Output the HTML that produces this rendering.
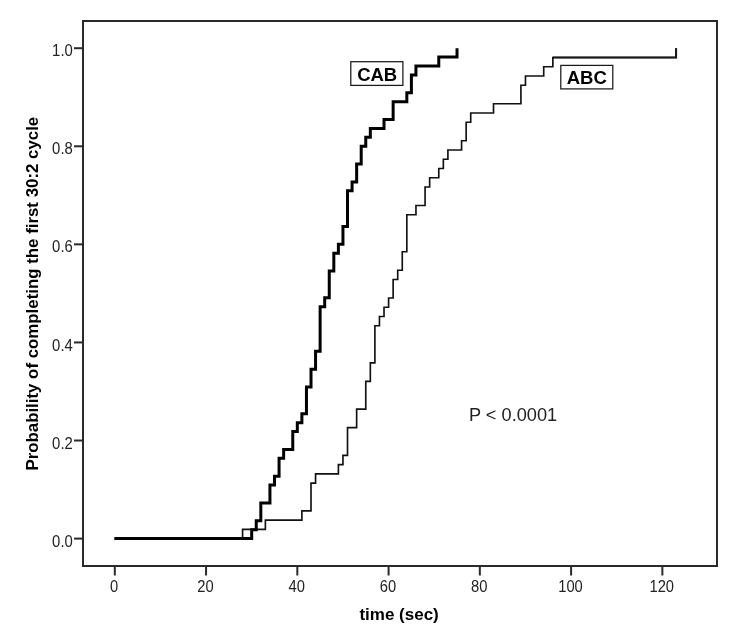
<!DOCTYPE html>
<html><head><meta charset="utf-8"><style>
html,body{margin:0;padding:0;background:#fff;width:740px;height:640px;overflow:hidden}
svg{display:block;will-change:transform}
text{font-family:"Liberation Sans",sans-serif}
</style></head><body>
<svg width="740" height="640" viewBox="0 0 740 640">
<rect x="0" y="0" width="740" height="640" fill="#fff"/>
<rect x="83" y="21" width="634" height="545" fill="none" stroke="#2a2a2a" stroke-width="2"/>
<g stroke="#2a2a2a" stroke-width="2"><line x1="74" y1="538.60" x2="83" y2="538.60"/><line x1="74" y1="440.52" x2="83" y2="440.52"/><line x1="74" y1="342.44" x2="83" y2="342.44"/><line x1="74" y1="244.36" x2="83" y2="244.36"/><line x1="74" y1="146.28" x2="83" y2="146.28"/><line x1="74" y1="48.20" x2="83" y2="48.20"/><line x1="114.80" y1="566" x2="114.80" y2="575.5"/><line x1="206.06" y1="566" x2="206.06" y2="575.5"/><line x1="297.32" y1="566" x2="297.32" y2="575.5"/><line x1="388.58" y1="566" x2="388.58" y2="575.5"/><line x1="479.84" y1="566" x2="479.84" y2="575.5"/><line x1="571.10" y1="566" x2="571.10" y2="575.5"/><line x1="662.36" y1="566" x2="662.36" y2="575.5"/></g>
<g font-size="16" fill="#222"><text transform="translate(72.8 546.70) scale(0.93 1)" text-anchor="end">0.0</text><text transform="translate(72.8 448.62) scale(0.93 1)" text-anchor="end">0.2</text><text transform="translate(72.8 350.54) scale(0.93 1)" text-anchor="end">0.4</text><text transform="translate(72.8 252.46) scale(0.93 1)" text-anchor="end">0.6</text><text transform="translate(72.8 154.38) scale(0.93 1)" text-anchor="end">0.8</text><text transform="translate(72.8 56.30) scale(0.93 1)" text-anchor="end">1.0</text><text transform="translate(114.20 591.8) scale(0.92 1)" text-anchor="middle">0</text><text transform="translate(205.46 591.8) scale(0.92 1)" text-anchor="middle">20</text><text transform="translate(296.72 591.8) scale(0.92 1)" text-anchor="middle">40</text><text transform="translate(387.98 591.8) scale(0.92 1)" text-anchor="middle">60</text><text transform="translate(479.24 591.8) scale(0.92 1)" text-anchor="middle">80</text><text transform="translate(570.50 591.8) scale(0.92 1)" text-anchor="middle">100</text><text transform="translate(661.76 591.8) scale(0.92 1)" text-anchor="middle">120</text></g>
<text x="0" y="0" transform="translate(38.3 293.7) rotate(-90)" text-anchor="middle" font-size="16.85" font-weight="bold" fill="#000">Probability of completing the first 30:2 cycle</text>
<text x="399.1" y="620" text-anchor="middle" font-size="17" font-weight="bold" fill="#000">time (sec)</text>
<path d="M115.00 538.60 H242.56 V529.35 H265.38 V520.09 H301.88 V510.84 H311.01 V483.08 H315.57 V473.83 H338.39 V464.58 H342.95 V455.32 H347.51 V427.57 H356.64 V409.06 H365.76 V381.30 H370.33 V362.80 H374.89 V325.78 H379.45 V316.53 H384.02 V307.28 H388.58 V298.03 H393.14 V279.52 H397.71 V270.27 H402.27 V251.76 H406.83 V214.75 H415.96 V205.50 H425.08 V186.99 H429.65 V177.74 H438.77 V168.49 H443.34 V159.23 H447.90 V149.98 H461.59 V140.73 H466.15 V122.22 H470.71 V112.97 H493.53 V103.72 H520.91 V85.21 H525.47 V75.96 H543.72 V66.71 H552.85 V57.45 H676.05 V48.20" fill="none" stroke="#111" stroke-width="1.65" stroke-linejoin="miter"/>
<path d="M552.85 57.45 H676.05 V48.20" fill="none" stroke="#1a1a1a" stroke-width="2.1"/>
<path d="M114.30 538.60 H251.69 V529.68 H256.25 V520.77 H260.82 V502.93 H269.94 V485.10 H274.50 V476.19 H279.07 V458.35 H283.63 V449.44 H292.76 V431.60 H297.32 V422.69 H301.88 V413.77 H306.45 V387.02 H311.01 V369.19 H315.57 V351.36 H320.13 V306.77 H324.70 V297.86 H329.26 V271.11 H333.82 V253.28 H338.39 V244.36 H342.95 V226.53 H347.51 V190.86 H352.08 V181.95 H356.64 V164.11 H361.20 V146.28 H365.76 V137.36 H370.33 V128.45 H384.02 V119.53 H393.14 V101.70 H406.83 V92.78 H411.39 V74.95 H415.96 V66.03 H438.77 V57.12 H457.02 V48.20" fill="none" stroke="#000" stroke-width="3" stroke-linejoin="miter"/>
<rect x="350.8" y="61.7" width="52.1" height="23.7" fill="#fff" stroke="#1a1a1a" stroke-width="1.25"/>
<text x="377.2" y="80.6" text-anchor="middle" font-size="18.5" font-weight="bold" fill="#000">CAB</text>
<rect x="560.8" y="65.4" width="52" height="23.5" fill="#fff" stroke="#1a1a1a" stroke-width="1.25"/>
<text x="586.8" y="83.6" text-anchor="middle" font-size="18.5" font-weight="bold" fill="#000">ABC</text>
<text x="469" y="420.7" font-size="18.2" fill="#222">P &lt; 0.0001</text>
</svg>
</body></html>
